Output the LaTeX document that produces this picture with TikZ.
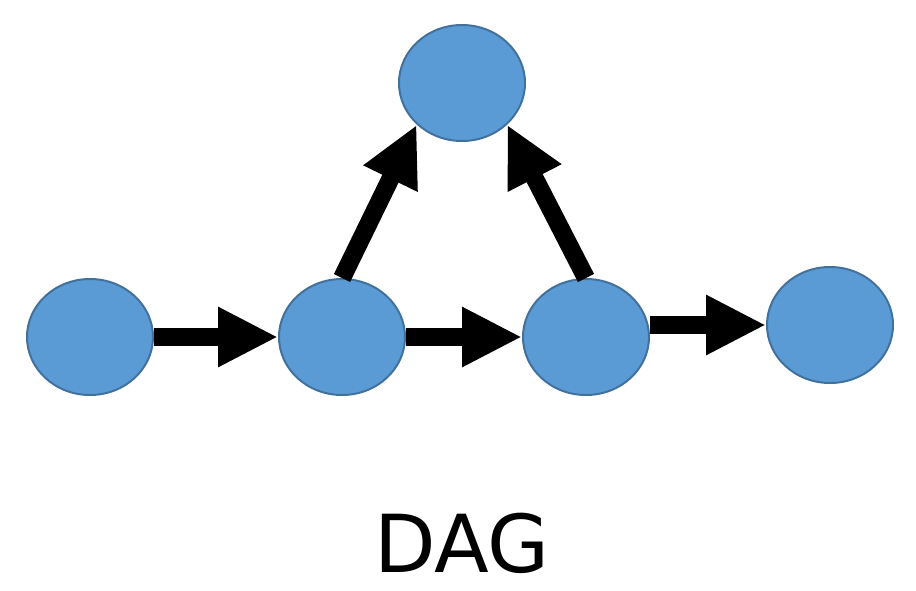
\documentclass[tikz,border=0pt]{standalone}
\usepackage{fontspec}
\setmainfont{DejaVu Sans}
\usetikzlibrary{shapes.geometric,arrows.meta}
\definecolor{nodefill}{HTML}{5B9BD5}
\definecolor{nodeedge}{HTML}{41719C}
\begin{document}
\begin{tikzpicture}[x=1pt,y=-1pt,
  vertex/.style={ellipse,fill=nodefill,draw=nodeedge,line width=2pt,minimum width=126pt,minimum height=116pt,inner sep=0pt},
  bigarrow/.style={line width=18pt,-{Triangle[width=56pt,length=60pt]}}]
\useasboundingbox (0,0) rectangle (916,590);
\node[vertex] (a) at (90,337) {};
\node[vertex] (b) at (342,337) {};
\node[vertex] (c) at (586,337) {};
\node[vertex] (d) at (830,325) {};
\node[vertex] (t) at (462,83) {};
\draw[bigarrow] (a.east) -- (b.west);
\draw[bigarrow] (b.east) -- (c.west);
\draw[bigarrow] (c.east |- d.east) -- (d.west);
\draw[bigarrow] (b.north) -- (t.south west);
\draw[bigarrow] (c.north) -- (t.south east);
\node[font=\fontsize{80}{90}\selectfont] (label) at (462,543) {DAG};
\end{tikzpicture}
\end{document}
